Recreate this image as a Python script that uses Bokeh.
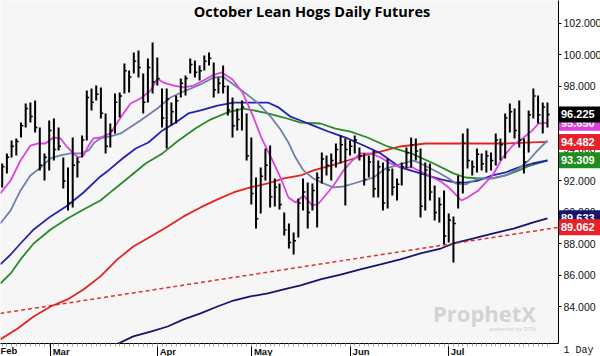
import numpy as np
from bokeh.plotting import figure
from bokeh.models import (ColumnDataSource, Range1d, LinearAxis, FixedTicker,
                          NumeralTickFormatter, Label)
from bokeh.embed import file_html
from bokeh.resources import INLINE

# ---------------- data ----------------
bar_high = [93.11, 93.75, 94.57, 94.70, 95.71, 96.92, 96.98, 97.11, 95.40, 93.75,
            95.84, 95.97, 95.40, 93.49, 92.86, 94.76, 93.49, 94.89, 97.75, 97.87,
            98.06, 97.94, 96.29, 95.65, 97.56, 97.62, 99.46, 99.02, 100.16, 100.29,
            98.83, 99.78, 100.79, 99.84, 97.87, 97.87, 96.98, 97.43, 98.51, 98.70,
            99.78, 99.65, 99.33, 99.97, 100.16, 99.52, 98.57, 99.33, 98.06, 97.30,
            96.60, 97.11, 96.29, 94.76, 92.22, 92.86, 94.06, 94.25, 92.16, 91.84,
            90.00, 89.30, 88.73, 90.89, 92.16, 91.90, 91.84, 92.54, 93.81, 93.62,
            93.75, 94.38, 94.89, 94.70, 94.57, 94.89, 94.13, 93.75, 93.62, 93.94,
            93.30, 93.17, 93.43, 92.79, 92.16, 93.17, 94.13, 94.76, 94.70, 94.06,
            93.17, 93.11, 91.71, 90.95, 91.40, 89.94, 89.75, 92.35, 95.02, 95.33,
            93.30, 94.06, 93.75, 93.94, 93.81, 95.02, 94.70, 96.29, 96.92, 96.60,
            97.11, 94.70, 96.48, 97.87, 97.43, 96.98, 96.98]
bar_low = [91.59, 92.48, 93.49, 93.62, 94.76, 95.40, 95.71, 95.08, 92.67, 92.03,
           92.67, 93.30, 93.94, 91.52, 90.13, 90.32, 92.22, 93.49, 94.57, 96.48,
           97.11, 95.97, 93.75, 94.13, 95.02, 96.03, 97.56, 97.62, 98.83, 98.57,
           96.29, 96.98, 97.56, 98.06, 95.40, 94.06, 95.52, 95.65, 97.30, 97.43,
           98.83, 98.57, 98.38, 99.02, 99.33, 97.30, 97.56, 97.56, 96.16, 94.76,
           95.21, 95.21, 93.30, 90.51, 88.98, 89.94, 92.03, 90.32, 90.38, 90.19,
           88.54, 87.71, 87.33, 88.41, 90.13, 88.98, 90.13, 89.05, 91.84, 92.35,
           92.03, 92.86, 93.11, 90.44, 93.62, 93.75, 93.30, 91.71, 92.22, 90.95,
           90.95, 90.13, 90.25, 91.08, 90.76, 91.71, 92.79, 92.86, 93.30, 89.68,
           90.13, 90.76, 89.49, 89.37, 87.97, 88.10, 86.83, 90.25, 91.21, 92.79,
           92.35, 92.54, 92.67, 92.54, 92.67, 92.98, 93.30, 93.43, 95.08, 94.70,
           94.13, 92.48, 93.81, 95.97, 95.65, 95.02, 95.40]
bar_close = [92.9, 93.5, 94.2, 94.5, 95.5, 96.6, 96.1, 95.4, 93.0, 93.5,
             95.2, 94.0, 94.2, 92.0, 90.6, 93.0, 93.2, 94.6, 97.3, 97.0,
             97.5, 96.3, 94.2, 95.2, 97.0, 97.4, 99.0, 98.6, 99.6, 99.2,
             97.0, 99.2, 98.3, 98.5, 96.0, 97.2, 96.4, 97.1, 98.2, 98.5,
             99.4, 98.9, 99.0, 99.6, 99.8, 97.8, 98.2, 98.0, 96.5, 95.5,
             95.9, 96.7, 93.6, 91.2, 89.6, 92.3, 93.0, 91.0, 91.6, 90.5,
             88.9, 88.1, 88.2, 90.6, 91.3, 90.0, 91.4, 92.2, 93.4, 93.0,
             93.3, 94.0, 94.3, 94.0, 94.2, 94.6, 93.6, 92.1, 93.2, 91.5,
             92.9, 90.6, 92.7, 91.6, 91.8, 92.9, 93.8, 94.3, 93.9, 90.4,
             92.7, 91.3, 90.0, 90.5, 88.5, 89.5, 89.3, 91.9, 94.4, 93.3,
             92.9, 93.7, 93.1, 93.6, 93.3, 94.6, 94.3, 96.0, 96.4, 95.2,
             94.6, 93.2, 96.2, 97.4, 96.2, 96.7, 96.225]

ma_short_x = [-0.4, 1.8, 3.9, 6.0, 7.7, 9.2, 10.9, 12.4, 13.9, 15.2, 16.2, 17.3, 18.4,
              19.4, 20.9, 23.0, 25.2, 27.3, 29.4, 31.6, 33.0, 34.3, 36.5, 38.6, 40.7,
              42.8, 44.7, 46.7, 49.0, 51.1, 53.3, 55.2, 57.3, 59.2, 60.9, 62.4, 64.1,
              66.0, 67.3, 68.4, 70.5, 72.6, 74.5, 76.2, 78.4, 80.5, 82.6, 84.7, 87.3,
              89.0, 91.1, 93.3, 95.0, 96.5, 97.7, 99.0, 101.3, 104.3, 106.5, 108.6,
              110.7, 112.8, 114.1, 116.0]
ma_short_y = [91.21, 92.03, 93.30, 94.25, 94.38, 94.38, 94.76, 94.70, 94.13, 93.75, 93.49,
              93.62, 94.25, 94.70, 94.76, 95.02, 96.03, 96.92, 97.24, 97.75, 98.51, 98.25,
              98.06, 97.94, 98.06, 98.38, 98.70, 98.89, 98.44, 97.62, 96.16, 94.70, 93.43,
              92.22, 90.95, 90.63, 91.08, 90.44, 90.57, 90.95, 91.71, 92.67, 93.30, 93.75,
              93.75, 93.49, 93.11, 92.86, 92.86, 92.60, 92.29, 91.97, 91.59, 91.14, 90.76,
              90.95, 91.40, 92.35, 93.49, 94.25, 94.70, 95.21, 95.65, 95.70]

ma_slate_x = [-0.4, 1.8, 3.9, 6.0, 8.2, 10.3, 12.4, 14.5, 16.7, 18.4, 19.6, 20.9, 23.0,
              25.2, 29.4, 33.0, 35.8, 38.6, 42.2, 45.0, 46.9, 49.2, 51.8, 54.5, 57.1,
              59.2, 60.9, 62.4, 64.1, 66.2, 68.4, 70.5, 72.6, 74.8, 76.9, 79.0, 81.6,
              83.7, 85.8, 87.3, 88.6, 90.7, 92.8, 95.0, 96.5, 98.6, 101.3, 104.3, 107.1,
              109.9, 112.0, 113.9, 116.0]
ma_slate_y = [89.30, 90.13, 91.40, 92.35, 92.86, 93.43, 93.62, 93.75, 93.75, 93.94, 94.44,
              94.70, 94.83, 95.02, 95.84, 96.60, 97.30, 97.68, 98.13, 98.57, 98.63, 98.13,
              97.56, 96.92, 96.09, 95.27, 94.44, 93.49, 92.67, 92.16, 91.84, 91.59, 91.65,
              91.84, 92.03, 92.22, 92.79, 92.98, 93.17, 93.30, 93.17, 92.86, 92.54, 92.16,
              91.84, 91.78, 92.16, 92.16, 92.35, 92.79, 93.30, 93.94, 94.57]

ma_blue_x = [-0.4, 1.8, 3.9, 6.7, 10.3, 13.9, 17.3, 20.9, 22.6, 25.6, 28.4, 31.1, 34.1,
             36.9, 39.6, 42.2, 45.8, 49.2, 53.5, 56.5, 58.8, 61.3, 63.5, 66.2, 69.9,
             73.5, 76.9, 80.5, 84.7, 89.0, 93.3, 96.5, 98.6, 101.3, 104.3, 107.1, 109.9,
             112.8, 116.0]
ma_blue_y = [86.70, 87.33, 88.03, 88.92, 89.75, 90.44, 91.27, 92.29, 92.67, 93.43, 94.06,
             94.44, 95.21, 95.71, 96.29, 96.48, 96.79, 96.98, 96.98, 96.98, 96.67, 96.09,
             95.84, 95.52, 95.08, 94.70, 94.25, 93.75, 92.86, 92.48, 92.10, 91.90, 91.90,
             92.03, 92.35, 92.54, 92.86, 93.11, 93.30]

ma_green_x = [-0.4, 1.8, 3.9, 6.7, 10.3, 13.9, 17.3, 20.9, 23.5, 26.9, 30.5, 34.1, 37.5,
              41.1, 44.3, 47.9, 51.3, 53.5, 56.5, 59.9, 63.5, 67.7, 70.9, 74.1, 77.7,
              82.0, 87.0, 91.8, 96.0, 98.6, 101.3, 104.3, 107.1, 109.9, 111.8, 113.9, 116.0]
ma_green_y = [85.49, 86.13, 87.02, 88.03, 88.92, 89.62, 90.19, 90.76, 91.40, 92.22, 93.11,
              93.75, 94.57, 95.33, 95.90, 96.35, 96.60, 96.48, 96.29, 96.03, 95.71, 95.65,
              95.33, 95.14, 94.76, 94.19, 93.75, 93.11, 92.48, 92.22, 92.16, 92.16, 92.35,
              92.67, 92.92, 93.11, 93.31]

ma_red_x = [-0.4, 3.3, 6.7, 10.3, 13.9, 17.3, 20.9, 24.5, 27.9, 31.6, 35.2, 38.6, 42.2,
            45.8, 49.2, 52.8, 56.5, 59.9, 63.5, 66.2, 69.9, 73.5, 76.9, 80.5, 84.7, 90.1,
            95.4, 101.8, 107.1, 111.3, 116.0]
ma_red_y = [81.94, 82.63, 83.40, 84.03, 84.48, 85.11, 85.94, 87.02, 87.84, 88.48, 89.11,
            89.75, 90.32, 90.83, 91.27, 91.59, 91.84, 92.16, 92.35, 92.67, 92.98, 93.30,
            93.62, 93.87, 94.19, 94.38, 94.38, 94.38, 94.38, 94.44, 94.48]

ma_navy_x = [20.9, 24.7, 27.9, 31.6, 35.2, 38.6, 42.2, 45.8, 49.2, 52.8, 56.5, 59.9, 63.5,
             67.7, 72.0, 76.2, 80.5, 84.7, 89.0, 93.3, 96.0, 100.3, 104.5, 108.8, 113.0, 116.0]
ma_navy_y = [80.86, 81.68, 82.13, 82.44, 82.76, 83.21, 83.59, 84.03, 84.41, 84.67, 84.86,
             85.11, 85.37, 85.75, 86.06, 86.38, 86.70, 87.02, 87.40, 87.71, 88.03, 88.35,
             88.67, 88.98, 89.37, 89.63]

trend_x = [-0.4, 118.4]
trend_y = [83.59, 89.06]

month_ticks = [10.3, 33.0, 53.0, 74.1, 94.9]
month_labels = ["Mar", "Apr", "May", "Jun", "Jul"]
month_pad = [8, 8, 9, 8, 7]          # leading no-break spaces to push label right of tick
price_ticks = [84, 86, 88, 90, 92, 94, 96, 98, 100, 102]

value_boxes = [  # (text, value, colour)
    ("95.650", 95.70, "#dd3edd"),
    ("96.225", 96.225, "#000000"),
    ("94.482", 94.482, "#e8202a"),
    ("93.309", 93.309, "#1e8c1e"),
    ("89.633", 89.633, "#14146e"),
    ("89.062", 89.062, "#e8202a"),
]

# ---------------- figure ----------------
p = figure(frame_width=558, frame_height=343, min_border=0, min_border_right=42,
           output_backend="svg", toolbar_location=None,
           x_range=Range1d(-0.36, 118.35), y_range=Range1d(81.68, 103.46))
p.xaxis.visible = False
p.yaxis.visible = False
p.xgrid.visible = False
p.ygrid.visible = False
p.outline_line_color = None
p.background_fill_color = "#f6f6f6"
p.border_fill_color = "white"

# right price axis
ra = LinearAxis(ticker=FixedTicker(ticks=price_ticks),
                formatter=NumeralTickFormatter(format="0.000"))
ra.axis_line_color = "black"
ra.major_tick_out = 3
ra.major_tick_in = 0
ra.minor_tick_line_color = None
ra.major_label_standoff = 2
ra.major_label_text_font = "Liberation Sans"
ra.major_label_text_font_size = "10.5px"
ra.major_label_text_color = "#111111"
p.add_layout(ra, "right")

# bottom date axis
idx = list(range(len(bar_high)))
ba = LinearAxis(ticker=FixedTicker(ticks=month_ticks, minor_ticks=idx),
                major_label_overrides={t: "\u00a0" * n + l
                                       for t, l, n in zip(month_ticks, month_labels, month_pad)})
ba.axis_line_color = "black"
ba.major_tick_out = 14
ba.major_tick_in = 0
ba.major_tick_line_color = "black"
ba.minor_tick_out = 3
ba.minor_tick_in = 0
ba.minor_tick_line_color = "#aaaaaa"
ba.major_label_standoff = -12
ba.major_label_text_font = "Liberation Sans"
ba.major_label_text_font_style = "bold"
ba.major_label_text_font_size = "9.5px"
ba.major_label_text_color = "#111111"
p.add_layout(ba, "below")

# moving averages
p.line(ma_navy_x, ma_navy_y, color="#15156e", line_width=1.8)
p.line(trend_x, trend_y, color="#e03030", line_width=1.5, line_dash="4 3")
p.line(ma_red_x, ma_red_y, color="#e52222", line_width=1.8)
p.line(ma_green_x, ma_green_y, color="#2a8a2a", line_width=1.8)
p.line(ma_blue_x, ma_blue_y, color="#2222b4", line_width=1.8)
p.line(ma_slate_x, ma_slate_y, color="#7080ad", line_width=1.8)
p.line(ma_short_x, ma_short_y, color="#dd44dd", line_width=1.8)

# price bars
src = ColumnDataSource(dict(x=idx, high=bar_high, low=bar_low, close=bar_close,
                            xr=list(np.array(idx) + 0.5)))
p.segment(x0="x", y0="low", x1="x", y1="high", source=src, color="black", line_width=2)
p.segment(x0="x", y0="close", x1="xr", y1="close", source=src, color="black", line_width=1.5)

# title
p.add_layout(Label(x=65.9, y=102.75, text="October Lean Hogs Daily Futures",
                   text_align="center", text_baseline="middle",
                   text_font="Open Sans", text_font_style="bold",
                   text_font_size="14.5px", text_color="black"))

# watermark
p.add_layout(Label(x=102.6, y=83.6, text="ProphetX", text_align="center",
                   text_baseline="middle", text_font="Open Sans", text_font_style="bold",
                   text_font_size="22px", text_color="#d3d3d3"))
p.add_layout(Label(x=113.5, y=82.62, text="powered by DTN", text_align="right",
                   text_baseline="middle", text_font="Open Sans",
                   text_font_size="6px", text_color="#cccccc"))

# value boxes on the price axis (side-panel annotations are not clipped to the frame)
for txt, val, col in value_boxes:
    p.add_layout(Label(x=118.45, y=val, text=txt + "\u00a0\u00a0", text_align="left",
                       text_baseline="middle",
                       text_font="Liberation Sans", text_font_style="bold",
                       text_font_size="11px",
                       text_color="white", background_fill_color=col,
                       background_fill_alpha=1.0, padding=2), "right")

# "Feb" and the interval tag under the axis
p.add_layout(Label(x=-0.36, y=81.25, text="Feb", text_align="left", text_baseline="middle",
                   text_font="Liberation Sans", text_font_style="bold",
                   text_font_size="9.5px", text_color="#111111"), "below")
p.add_layout(Label(x=119.4, y=81.25, text="1 Day", text_align="left", text_baseline="middle",
                   text_font="Liberation Mono", text_font_size="10px", text_color="#111111"),
             "below")

open("out.html", "w").write(file_html(p, INLINE))
